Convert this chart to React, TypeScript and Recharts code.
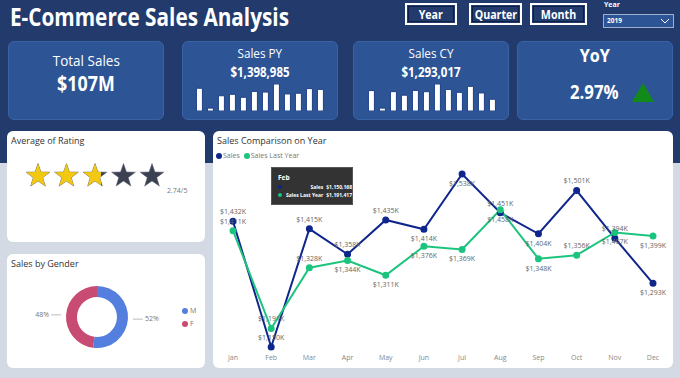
import React from 'react';
import { LineChart, Line, XAxis, YAxis, LabelList, BarChart, Bar, PieChart, Pie, Cell, ScatterChart, Scatter } from 'recharts';

const months = ['Jan', 'Feb', 'Mar', 'Apr', 'May', 'Jun', 'Jul', 'Aug', 'Sep', 'Oct', 'Nov', 'Dec'];
const sales = [1432000, 1150168, 1415000, 1358000, 1435000, 1414000, 1538000, 1451000, 1404000, 1501000, 1394000, 1293000];
const salesLastYear = [1411000, 1191417, 1328000, 1344000, 1311000, 1376000, 1369000, 1458000, 1348000, 1356000, 1407000, 1399000];

const genders = ['M', 'F'];
const genderShare = [52, 48];

const rating = 2.74;
const ratingMax = 5;

const kpiTotal = '$107M';
const kpiPY = '$1,398,985';
const kpiCY = '$1,293,017';
const kpiYoY = '2.97%';

// label placement (style only) per point
const salesLabelPos = ['up', 'up', 'up', 'up', 'up', 'down', 'down', 'up', 'down', 'up', 'up', 'down'];
const lyLabelPos = ['up', 'up', 'up', 'down', 'down', 'down', 'down', 'down', 'down', 'up', 'down', 'down'];

const NAVY = '#223b6c';
const CARD = '#2d5596';
const BLUE = '#0f268c';
const GREEN = '#1cc47e';
const FONT = "'Open Sans', sans-serif";

const lineData = months.map((m, i) => ({ month: m, sales: sales[i], ly: salesLastYear[i] }));
const pyData = months.map((m, i) => ({ month: m, v: salesLastYear[i] }));
const cyData = months.map((m, i) => ({ month: m, v: sales[i] }));
const genderData = genders.map((g, i) => ({ name: g, value: genderShare[i] }));
const starData = Array.from({ length: ratingMax }, (_, i) => ({ x: i + 1, y: 1 }));

const fmtK = (v: number) => '$' + Math.round(v / 1000).toLocaleString('en-US') + 'K';
const fmtFull = (v: number) => '$' + v.toLocaleString('en-US');

const miniDomain = (arr: number[]) => {
  const lo = Math.min(...arr);
  const hi = Math.max(...arr);
  return [lo - (hi - lo) * 0.12, hi];
};

const makeLabel = (pos: string[]) => (props: any) => {
  const { x, y, value, index } = props;
  const up = pos[index] === 'up';
  return (
    <text x={x} y={up ? y - 9 : y + 10} textAnchor="middle" dominantBaseline="middle" fontSize={7} fill="#666" fontFamily={FONT}>
      {fmtK(value)}
    </text>
  );
};

const starPath = (cx: number, cy: number, R: number, r: number) => {
  let d = '';
  for (let k = 0; k < 10; k++) {
    const rad = k % 2 === 0 ? R : r;
    const a = -Math.PI / 2 + (k * Math.PI) / 5;
    d += (k === 0 ? 'M' : 'L') + (cx + rad * Math.cos(a)).toFixed(2) + ',' + (cy + rad * Math.sin(a)).toFixed(2);
  }
  return d + 'Z';
};

const StarShape = (props: any) => {
  const { cx, cy, payload } = props;
  const R = 12.5;
  const d = starPath(cx, cy, R, R * 0.4);
  const frac = Math.max(0, Math.min(1, rating - (payload.x - 1)));
  const id = 'clip-star-' + payload.x;
  return (
    <g>
      <path d={d} fill="#3b4152" stroke="#5a6070" strokeWidth={0.5} />
      {frac > 0 && (
        <>
          <defs>
            <clipPath id={id}>
              <rect x={cx - R} y={cy - R} width={2 * R * frac} height={2 * R} />
            </clipPath>
          </defs>
          <path d={d} fill="#f2c811" clipPath={`url(#${id})`} />
        </>
      )}
    </g>
  );
};

const PieLabel = (props: any) => {
  const { cx, cy, midAngle, outerRadius, value } = props;
  const RAD = Math.PI / 180;
  const cos = Math.cos(-midAngle * RAD);
  const sin = Math.sin(-midAngle * RAD);
  const x1 = cx + (outerRadius + 5) * cos;
  const y1 = cy + (outerRadius + 3) * sin;
  const x2 = x1 + (cos >= 0 ? 10 : -10);
  return (
    <g>
      <line x1={x1} y1={y1} x2={x2} y2={y1} stroke="#bbb" strokeWidth={1} />
      <text x={x2 + (cos >= 0 ? 2 : -2)} y={y1} textAnchor={cos >= 0 ? 'start' : 'end'} dominantBaseline="middle" fontSize={7} fill="#777" fontFamily={FONT}>
        {value}%
      </text>
    </g>
  );
};

// narrow text, to look like the condensed report font
const Cond = ({ s, origin = 'center', children }: any) => (
  <span style={{ display: 'inline-block', transform: `scaleX(${s})`, transformOrigin: origin, whiteSpace: 'nowrap' }}>{children}</span>
);

const Card = ({ left, children }: any) => (
  <div style={{ position: 'absolute', left, top: 41, width: 156, height: 79, background: CARD, borderRadius: 6, border: '1px solid #3a63a6', color: '#fff', fontFamily: FONT, boxSizing: 'border-box' }}>
    {children}
  </div>
);

const Btn = ({ left, width, label }: any) => (
  <div style={{ position: 'absolute', left, top: 3, width, height: 22, boxSizing: 'border-box', border: '2px solid #fff', outline: '1px solid #0d1f44', outlineOffset: -4, color: '#fff', fontFamily: FONT, fontWeight: 700, fontSize: 13, display: 'flex', alignItems: 'center', justifyContent: 'center' }}>
    <Cond s={0.82}>{label}</Cond>
  </div>
);

const Panel = ({ left, top, width, height, title }: any) => (
  <div style={{ position: 'absolute', left, top, width, height, background: '#fff', borderRadius: 6 }}>
    <div style={{ position: 'absolute', left: 4, top: 3, fontFamily: FONT, fontSize: 9, color: '#333' }}>{title}</div>
  </div>
);

export default function App() {
  return (
    <div style={{ position: 'absolute', left: 0, top: 0, width: 680, height: 378, background: '#d4dae3', overflow: 'hidden', fontFamily: FONT }}>
      <div style={{ position: 'absolute', left: 0, top: 0, width: 680, height: 163, background: NAVY }} />
      <div style={{ position: 'absolute', left: 10, top: -1, color: '#fff', fontWeight: 700, fontSize: 25 }}>
        <Cond s={0.83} origin="left">E-Commerce Sales Analysis</Cond>
      </div>
      <Btn left={405} width={52} label="Year" />
      <Btn left={469} width={53} label="Quarter" />
      <Btn left={530} width={57} label="Month" />
      <div style={{ position: 'absolute', left: 604, top: 0, color: '#fff', fontWeight: 700, fontSize: 7 }}>Year</div>
      <div style={{ position: 'absolute', left: 603, top: 14, width: 71, height: 14, boxSizing: 'border-box', background: CARD, border: '1px solid #9fb0cf', color: '#fff', fontSize: 6.5, fontWeight: 700, paddingLeft: 3, lineHeight: '12px' }}>
        2019
        <svg width={10} height={8} style={{ position: 'absolute', right: 3, top: 3 }}>
          <polyline points="1,1 5,5 9,1" fill="none" stroke="#fff" strokeWidth={1} />
        </svg>
      </div>

      <Card left={8}>
        <div style={{ position: 'absolute', top: 8, width: '100%', textAlign: 'center', fontSize: 15 }}><Cond s={0.9}>Total Sales</Cond></div>
        <div style={{ position: 'absolute', top: 27, width: '100%', textAlign: 'center', fontSize: 21, fontWeight: 700 }}><Cond s={0.85}>{kpiTotal}</Cond></div>
      </Card>
      <Card left={182}>
        <div style={{ position: 'absolute', top: 2, width: '100%', textAlign: 'center', fontSize: 13 }}><Cond s={0.9}>Sales PY</Cond></div>
        <div style={{ position: 'absolute', top: 20, width: '100%', textAlign: 'center', fontSize: 14, fontWeight: 700 }}><Cond s={0.82}>{kpiPY}</Cond></div>
      </Card>
      <Card left={353}>
        <div style={{ position: 'absolute', top: 2, width: '100%', textAlign: 'center', fontSize: 13 }}><Cond s={0.9}>Sales CY</Cond></div>
        <div style={{ position: 'absolute', top: 20, width: '100%', textAlign: 'center', fontSize: 14, fontWeight: 700 }}><Cond s={0.82}>{kpiCY}</Cond></div>
      </Card>
      <Card left={517}>
        <div style={{ position: 'absolute', top: 1, width: '100%', textAlign: 'center', fontSize: 18, fontWeight: 700 }}><Cond s={0.9}>YoY</Cond></div>
        <div style={{ position: 'absolute', top: 37, left: 52, fontSize: 19, fontWeight: 700 }}><Cond s={0.88} origin="left">{kpiYoY}</Cond></div>
        <svg width={22} height={19} style={{ position: 'absolute', left: 114, top: 41 }}>
          <polygon points="11,0 22,19 0,19" fill="#118a1a" />
        </svg>
      </Card>

      <div style={{ position: 'absolute', left: 194, top: 84 }}>
        <BarChart width={132} height={27} data={pyData} margin={{ top: 0, right: 0, bottom: 0, left: 0 }} barCategoryGap="22%">
          <XAxis dataKey="month" hide />
          <YAxis hide domain={miniDomain(salesLastYear)} allowDataOverflow />
          <Bar dataKey="v" fill="#fff" stroke="#1d3f85" strokeWidth={1} isAnimationActive={false} />
        </BarChart>
      </div>
      <div style={{ position: 'absolute', left: 366, top: 84 }}>
        <BarChart width={132} height={27} data={cyData} margin={{ top: 0, right: 0, bottom: 0, left: 0 }} barCategoryGap="22%">
          <XAxis dataKey="month" hide />
          <YAxis hide domain={miniDomain(sales)} allowDataOverflow />
          <Bar dataKey="v" fill="#fff" stroke="#1d3f85" strokeWidth={1} isAnimationActive={false} />
        </BarChart>
      </div>

      <Panel left={7} top={131} width={198} height={111} title="Average of Rating" />
      <div style={{ position: 'absolute', left: 20, top: 156 }}>
        <ScatterChart width={150} height={40} margin={{ top: 0, right: 18, bottom: 0, left: 18 }}>
          <XAxis type="number" dataKey="x" domain={[1, ratingMax]} hide />
          <YAxis type="number" dataKey="y" domain={[0, 2]} hide />
          <Scatter data={starData} shape={StarShape} isAnimationActive={false} />
        </ScatterChart>
      </div>
      <div style={{ position: 'absolute', left: 167, top: 186, fontSize: 7, color: '#777' }}>
        {rating}/{ratingMax}
      </div>

      <Panel left={7} top={254} width={198} height={114} title="Sales by Gender" />
      <div style={{ position: 'absolute', left: 7, top: 272 }}>
        <PieChart width={198} height={90} margin={{ top: 0, right: 0, bottom: 0, left: 0 }}>
          <Pie data={genderData} dataKey="value" cx={90} cy={45} innerRadius={20} outerRadius={31} startAngle={90} endAngle={-270} stroke="none" label={PieLabel} labelLine={false} isAnimationActive={false}>
            <Cell fill="#557fdf" />
            <Cell fill="#c84b73" />
          </Pie>
        </PieChart>
      </div>
      <div style={{ position: 'absolute', left: 182, top: 304, fontSize: 7, color: '#777', lineHeight: '13px' }}>
        {genderData.map((g, i) => (
          <div key={g.name} style={{ display: 'flex', alignItems: 'center' }}>
            <span style={{ width: 6, height: 6, borderRadius: 3, background: i === 0 ? '#557fdf' : '#c84b73', marginRight: 2 }} />
            {g.name}
          </div>
        ))}
      </div>

      <Panel left={213} top={131} width={460} height={237} title="Sales Comparison on Year" />
      <div style={{ position: 'absolute', left: 216, top: 151, fontSize: 7, color: '#777', display: 'flex', alignItems: 'center' }}>
        <span style={{ width: 6, height: 6, borderRadius: 3, background: BLUE, marginRight: 1 }} />Sales
        <span style={{ width: 6, height: 6, borderRadius: 3, background: GREEN, margin: '0 1px 0 4px' }} />Sales Last Year
      </div>
      <div style={{ position: 'absolute', left: 213, top: 131 }}>
        <LineChart width={460} height={237} data={lineData} margin={{ top: 43, right: 20, bottom: 7, left: 20 }}>
          <XAxis dataKey="month" axisLine={false} tickLine={false} height={14} interval={0} tick={{ fontSize: 7, fill: '#888', fontFamily: FONT }} />
          <YAxis hide domain={['dataMin', 'dataMax']} />
          <Line dataKey="sales" stroke={BLUE} strokeWidth={2} dot={{ r: 2.5, fill: BLUE, stroke: BLUE }} isAnimationActive={false}>
            <LabelList dataKey="sales" content={makeLabel(salesLabelPos)} />
          </Line>
          <Line dataKey="ly" stroke={GREEN} strokeWidth={2} dot={{ r: 2.5, fill: GREEN, stroke: GREEN }} isAnimationActive={false}>
            <LabelList dataKey="ly" content={makeLabel(lyLabelPos)} />
          </Line>
        </LineChart>
      </div>

      <div style={{ position: 'absolute', left: 271, top: 167, width: 82, height: 38, boxSizing: 'border-box', background: '#333', border: '1px solid #555', color: '#fff', fontSize: 5, fontWeight: 700 }}>
        <div style={{ position: 'absolute', left: 6, top: 5, fontSize: 6.5 }}>{months[1]}</div>
        {[{ c: BLUE, n: 'Sales', v: sales[1] }, { c: GREEN, n: 'Sales Last Year', v: salesLastYear[1] }].map((r, i) => (
          <div key={r.n} style={{ position: 'absolute', left: 6, top: 16 + i * 8, width: 74, display: 'flex', alignItems: 'center', whiteSpace: 'nowrap' }}>
            <span style={{ width: 4, height: 4, borderRadius: 2, background: r.c }} />
            <span style={{ flex: 1, textAlign: 'right', marginRight: 3 }}>{r.n}</span>
            <span>{fmtFull(r.v)}</span>
          </div>
        ))}
      </div>
    </div>
  );
}
